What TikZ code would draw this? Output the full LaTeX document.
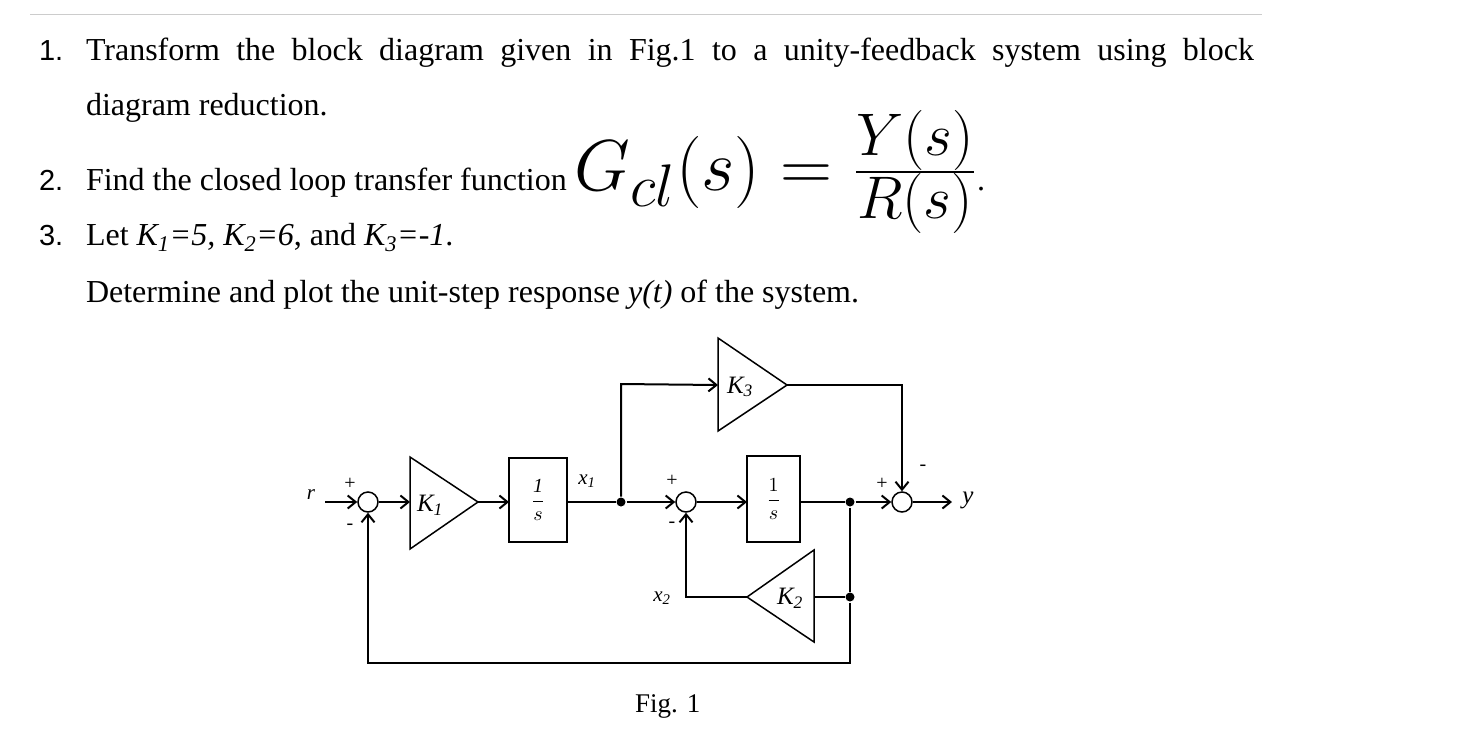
\documentclass[tikz,border=0pt]{standalone}
\usepackage{fontspec}
\usepackage{graphicx}
\setmainfont{Liberation Serif}
\newfontfamily\numf{Liberation Sans}
\usetikzlibrary{arrows.meta}
\begin{document}
\begin{tikzpicture}[x=1pt,y=-1pt,
  line width=2pt,
  arr/.style={-{Straight Barb[length=8pt,width=13pt,line width=2pt]}},
  txt/.style={anchor=base west,inner sep=0pt,font=\fontsize{32}{36}\selectfont},
  num/.style={anchor=base west,inner sep=0pt,font=\numf\fontsize{29}{34}\selectfont},
  lab/.style={inner sep=0pt,font=\fontsize{21}{24}\selectfont\itshape},
  big/.style={inner sep=0pt,font=\fontsize{25}{28}\selectfont\itshape},
  sgn/.style={inner sep=0pt,font=\fontsize{20}{22}\selectfont},
  sumc/.style={circle,draw,minimum size=20pt,inner sep=0pt,line width=1.5pt},
  blk/.style={draw,line width=1.5pt},
  dot/.style={circle,fill,minimum size=9pt,inner sep=0pt}]
\useasboundingbox (0,0) rectangle (1470,748);
\draw[gray!40,line width=1pt] (30,14) -- (1262,14);
% text
\node[num] (n1) at (38,60) {1.};
\node[txt] (t1) at (85,60) {\makebox[1168pt][s]{Transform the block diagram given in Fig.1 to a unity-feedback system using block}};
\node[txt] (t1b) at (85,115) {diagram reduction.};
\node[num] (n2) at (38,190) {2.};
\node[txt] (t2) at (85,190) {Find the closed loop transfer function \scalebox{2.9}{$G_{cl}(s)=\frac{Y(s)}{R(s)}$}.};
\node[num] (n3) at (38,245) {3.};
\node[txt] (t3) at (85,245) {Let \textit{K\textsubscript{1}=5, K\textsubscript{2}=6}, and \textit{K\textsubscript{3}=-1}.};
\node[txt] (t4) at (85,302) {Determine and plot the unit-step response \textit{y(t)} of the system.};
\node[txt] (fig) at (634,712) {\fontsize{27}{30}\selectfont Fig. 1};
% diagram
\node[sumc] (s1) at (368,502) {};
\node[sumc] (s2) at (686,502) {};
\node[sumc] (s3) at (902,502) {};
\draw[blk] (410,457) coordinate (k1a) -- (478,502) coordinate (k1o) -- (410,549) -- cycle;
\node[big] (k1) at (430,505) {K\textsubscript{1}};
\node[blk,minimum width=58pt,minimum height=84pt] (b1) at (538,500) {};
\node[inner sep=0pt] (b1t) at (538,500) {\scalebox{2}{$\displaystyle\frac{\mathit{1}}{s}$}};
\draw[blk] (718,338) -- (787,385) coordinate (k3o) -- (718,431) -- cycle;
\coordinate (k3i) at (718,385);
\node[big] (k3) at (740,387) {K\textsubscript{3}};
\node[blk,minimum width=53pt,minimum height=86pt] (b2) at (773.5,499) {};
\node[inner sep=0pt] (b2t) at (773.5,499) {\scalebox{2}{$\displaystyle\frac{1}{s}$}};
\draw[blk] (814,550) -- (747,597) coordinate (k2o) -- (814,642) -- cycle;
\coordinate (k2i) at (814,597);
\node[big] (k2) at (790,598) {K\textsubscript{2}};
\coordinate (k1i) at (410,502);
\coordinate (b1i) at (509,502);
\coordinate (b1o) at (567,502);
\coordinate (b2i) at (747,502);
\coordinate (b2o) at (800,502);
\node[dot] (j1) at (621,502) {};
\node[dot] (j2) at (850,502) {};
\node[dot] (j3) at (850,597) {};
\coordinate (rin) at (325,502);
\coordinate (yout) at (952,502);
\coordinate (c1) at (850,663);
\coordinate (c2) at (368,663);
\coordinate (c3) at (621,384);
\coordinate (c4) at (902,385);
\coordinate (c5) at (686,597);
\draw[arr] (rin) -- (s1);
\draw[arr] (s1) -- (k1i);
\draw[arr] (k1o) -- (b1i);
\draw (b1o) -- (j1);
\draw[arr] (j1) -- (s2);
\draw[arr] (s2) -- (b2i);
\draw (b2o) -- (j2);
\draw[arr] (j2) -- (s3);
\draw[arr] (s3) -- (yout);
\draw[arr] (j1) -- (c3) -- (k3i);
\draw[arr] (k3o) -- (c4) -- (s3);
\draw (j2) -- (j3) -- (k2i);
\draw[arr] (k2o) -- (c5) -- (s2);
\draw[arr] (j3) -- (c1) -- (c2) -- (s1);
% labels
\node[lab] (r) at (311,495) {r};
\node[lab] (x1) at (587,481) {x\textsubscript{1}};
\node[lab] (x2) at (662,598) {x\textsubscript{2}};
\node[big] (y) at (968,500) {y};
\node[sgn] (p1) at (350,484) {+};
\node[sgn] (m1) at (350,527) {-};
\node[sgn] (p2) at (672,481) {+};
\node[sgn] (m2) at (672,525) {-};
\node[sgn] (p3) at (882,484) {+};
\node[sgn] (m3) at (923,468) {-};
\end{tikzpicture}
\end{document}
